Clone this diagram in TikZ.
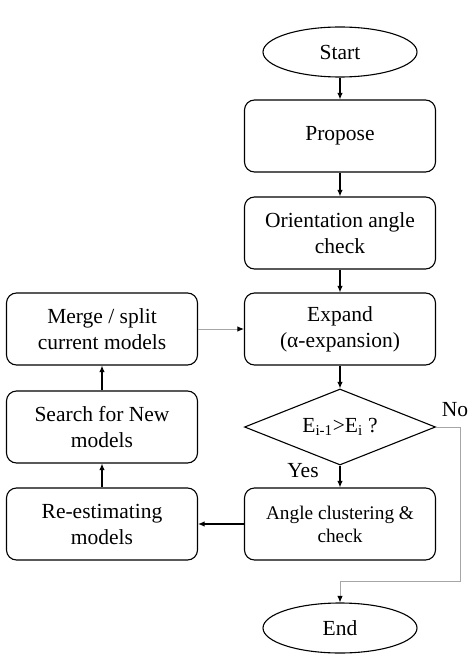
\documentclass[tikz,border=0pt]{standalone}
\usepackage{fontspec}
\setmainfont{Liberation Serif}
\usetikzlibrary{shapes.geometric,arrows.meta}
\begin{document}
\begin{tikzpicture}[x=1pt,y=-1pt,
  every node/.style={font=\fontsize{21.5}{26}\selectfont},
  box/.style={draw, rounded corners=10pt, line width=1.1pt, minimum width=191pt, minimum height=72pt, align=center, inner sep=0pt},
  oval/.style={draw, ellipse, line width=1.1pt, minimum width=154pt, minimum height=50pt, inner sep=0pt},
  decide/.style={draw, diamond, line width=1.1pt, minimum width=191pt, minimum height=76pt, aspect=2.5, inner sep=0pt},
  conn/.style={line width=1.1pt, -{Latex[length=6.5pt,width=5.5pt]}},
  grayconn/.style={line width=1pt, draw=gray!70, -{Latex[length=6.5pt,width=5.5pt,color=black]}},
  lbl/.style={font=\fontsize{21.5}{26}\selectfont}
]
\useasboundingbox (0,0) rectangle (474,668);
\node[oval] (start) at (340,52) {Start};
\node[box] (propose) at (340,136) {Propose};
\node[box] (orient) at (340,233) {Orientation angle\\check};
\node[box] (expand) at (340,329) {Expand\\(α-expansion)};
\node[decide] (dec) at (340,427) {E\textsubscript{i-1}>E\textsubscript{i} ?};
\node[box, font=\fontsize{19.3}{23}\selectfont] (angle) at (340,524) {Angle clustering \&\\check};
\node[oval] (finish) at (340,628) {End};
\node[box] (merge) at (102,329) {Merge / split\\current models};
\node[box] (search) at (102,427) {Search for New\\models};
\node[box] (reest) at (102,524) {Re-estimating\\models};
\node[lbl] (yes) at (303,471) {Yes};
\node[lbl] (no) at (455,410) {No};
\coordinate (turn) at (460,581);

\draw[conn] (start) -- (propose);
\draw[conn] (propose) -- (orient);
\draw[conn] (orient) -- (expand);
\draw[conn] (expand) -- (dec);
\draw[conn] (dec) -- (angle);
\draw[conn] (angle) -- (reest);
\draw[conn] (reest) -- (search);
\draw[conn] (search) -- (merge);
\draw[grayconn] (merge) -- (expand);
\draw[grayconn] (dec.east) -| (turn) -- (finish.north |- turn) -- (finish.north);
\end{tikzpicture}
\end{document}
